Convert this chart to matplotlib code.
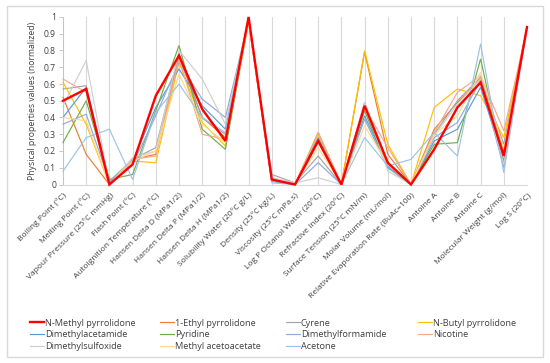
import matplotlib
matplotlib.use("Agg")
import matplotlib.pyplot as plt
from matplotlib.patches import Rectangle
from matplotlib.lines import Line2D

plt.rcParams['font.family'] = ['Open Sans', 'DejaVu Sans']

categories = [
    "Boiling Point (°C)", "Melting Point (°C)", "Vapour Pressure (25°C mmHg)",
    "Flash Point (°C)", "Autoignition Temperature (°C)", "Hansen Delta D (MPa1/2)",
    "Hansen Delta P (MPa1/2)", "Hansen Delta H (MPa1/2)", "Solubility Water (20°C g/L)",
    "Density (25°C kg/L)", "Viscosity (25°C mPa.s)", "Log P Octanol Water (20°C)",
    "Refractive Index (20°C)", "Surface Tension (25°C mN/m)", "Molar Volume (mL/mol)",
    "Relative Evaporation Rate (BuAc=100)", "Antoine A", "Antoine B", "Antoine C",
    "Molecular Weight (g/mol)", "Log S (20°C)",
]

series_names = [
    "N-Methyl pyrrolidone", "1-Ethyl pyrrolidone", "Cyrene", "N-Butyl pyrrolidone",
    "Dimethylacetamide", "Pyridine", "Dimethylformamide", "Nicotine",
    "Dimethylsulfoxide", "Methyl acetoacetate", "Acetone",
]

nmp      = [0.50, 0.57, 0.00, 0.12, 0.53, 0.77, 0.45, 0.26, 1.00, 0.03, 0.00, 0.26, 0.00, 0.47, 0.13, 0.00, 0.21, 0.46, 0.61, 0.17, 0.94]
nep      = [0.52, 0.18, 0.00, 0.15, 0.18, 0.76, 0.40, 0.28, 0.98, 0.03, 0.00, 0.31, 0.00, 0.79, 0.18, 0.00, 0.33, 0.49, 0.63, 0.20, 0.94]
cyrene   = [0.57, 0.59, 0.02, 0.15, 0.22, 0.78, 0.40, 0.30, 0.97, 0.06, 0.01, 0.17, 0.00, 0.49, 0.13, 0.00, 0.30, 0.50, 0.64, 0.24, 0.94]
nbp      = [0.61, 0.36, 0.00, 0.14, 0.13, 0.73, 0.37, 0.23, 0.97, 0.02, 0.00, 0.30, 0.00, 0.80, 0.24, 0.00, 0.46, 0.57, 0.53, 0.28, 0.93]
dmac     = [0.40, 0.58, 0.01, 0.14, 0.46, 0.69, 0.47, 0.33, 0.98, 0.02, 0.00, 0.28, 0.00, 0.41, 0.11, 0.00, 0.26, 0.33, 0.58, 0.14, 0.94]
pyridine = [0.25, 0.50, 0.03, 0.06, 0.44, 0.83, 0.33, 0.21, 0.98, 0.02, 0.00, 0.27, 0.00, 0.44, 0.10, 0.00, 0.24, 0.25, 0.75, 0.12, 0.94]
dmf      = [0.36, 0.42, 0.02, 0.12, 0.41, 0.73, 0.51, 0.40, 0.98, 0.02, 0.00, 0.13, 0.00, 0.39, 0.10, 0.00, 0.28, 0.37, 0.62, 0.10, 0.94]
nicotine = [0.63, 0.55, 0.00, 0.15, 0.17, 0.75, 0.30, 0.27, 0.97, 0.03, 0.00, 0.31, 0.00, 0.46, 0.22, 0.00, 0.31, 0.55, 0.65, 0.32, 0.93]
dmso     = [0.47, 0.74, 0.00, 0.16, 0.20, 0.80, 0.63, 0.36, 0.98, 0.04, 0.01, 0.04, 0.00, 0.49, 0.08, 0.00, 0.29, 0.48, 0.63, 0.12, 0.94]
maa      = [0.40, 0.38, 0.00, 0.14, 0.20, 0.66, 0.36, 0.25, 0.97, 0.03, 0.00, 0.22, 0.00, 0.35, 0.12, 0.00, 0.30, 0.41, 0.67, 0.21, 0.93]
acetone  = [0.08, 0.28, 0.33, 0.03, 0.43, 0.60, 0.40, 0.31, 1.00, 0.01, 0.00, 0.25, 0.00, 0.28, 0.11, 0.15, 0.31, 0.17, 0.84, 0.07, 0.94]

values = [nmp, nep, cyrene, nbp, dmac, pyridine, dmf, nicotine, dmso, maa, acetone]
colors = ["#FF0000", "#ED7D31", "#A5A5A5", "#FFC000", "#5B9BD5", "#70AD47",
          "#8FAADC", "#F4A98A", "#CFCFCF", "#FFD98A", "#9DC3E6"]
widths = [1.7, 0.85, 0.85, 0.85, 0.85, 0.85, 0.85, 0.85, 0.85, 0.85, 0.85]

W, H = 550, 363
fig = plt.figure(figsize=(W / 100, H / 100), dpi=100)
ax = fig.add_axes([63 / W, 1 - 184.5 / H, (527 - 63) / W, (184.5 - 17) / H])

x = list(range(len(categories)))
order_z = list(range(1, len(values))) + [0]
for rank, i in enumerate(order_z):
    ax.plot(x, values[i], color=colors[i], lw=widths[i], zorder=3 + rank,
            clip_on=False, solid_joinstyle='miter')
handles = [Line2D([], [], color=colors[i], lw=widths[i]) for i in range(len(values))]

ax.set_xlim(0, len(categories) - 1)
ax.set_ylim(0, 1)
ax.set_xticks(x)
ax.set_xticklabels(categories, rotation=45, ha='right', rotation_mode='anchor',
                   fontsize=6.0, color='#404040')
ax.set_yticks([i / 10 for i in range(11)])
ax.set_yticklabels(["0", "0.1", "0.2", "0.3", "0.4", "0.5", "0.6", "0.7", "0.8", "0.9", "1"],
                   fontsize=6.2, color='#404040')
ax.tick_params(axis='x', length=0, pad=5)
ax.tick_params(axis='y', length=3, width=0.6, color='#BFBFBF', pad=2)
ax.xaxis.grid(True, color='#D9D9D9', lw=0.8)
ax.set_axisbelow(True)
for s in ['top', 'right']:
    ax.spines[s].set_visible(False)
ax.spines['left'].set_color('#BFBFBF')
ax.spines['left'].set_linewidth(0.6)
ax.spines['bottom'].set_color('#D9D9D9')
ax.spines['bottom'].set_linewidth(0.8)
ax.set_ylabel("Physical properties values (normalized)", fontsize=6.2, color='#404040', labelpad=5)

# legend: four columns filled row-wise
col_x = [30, 160, 286, 418]
for c in range(4):
    idx = [i for i in range(len(values)) if i % 4 == c]
    fig.legend([handles[i] for i in idx], [series_names[i] for i in idx],
               loc='upper left', bbox_to_anchor=(col_x[c] / W, 1 - 318.5 / H),
               frameon=False, fontsize=6.6, handlelength=1.5, handletextpad=0.1,
               labelspacing=0.32, borderpad=0, borderaxespad=0, labelcolor='#404040')

fig.patches.append(Rectangle((7 / W, 6 / H), 536 / W, 351 / H, transform=fig.transFigure,
                             fill=False, ec='#D9D9D9', lw=1.0))

fig.savefig("out.png", dpi=100)
